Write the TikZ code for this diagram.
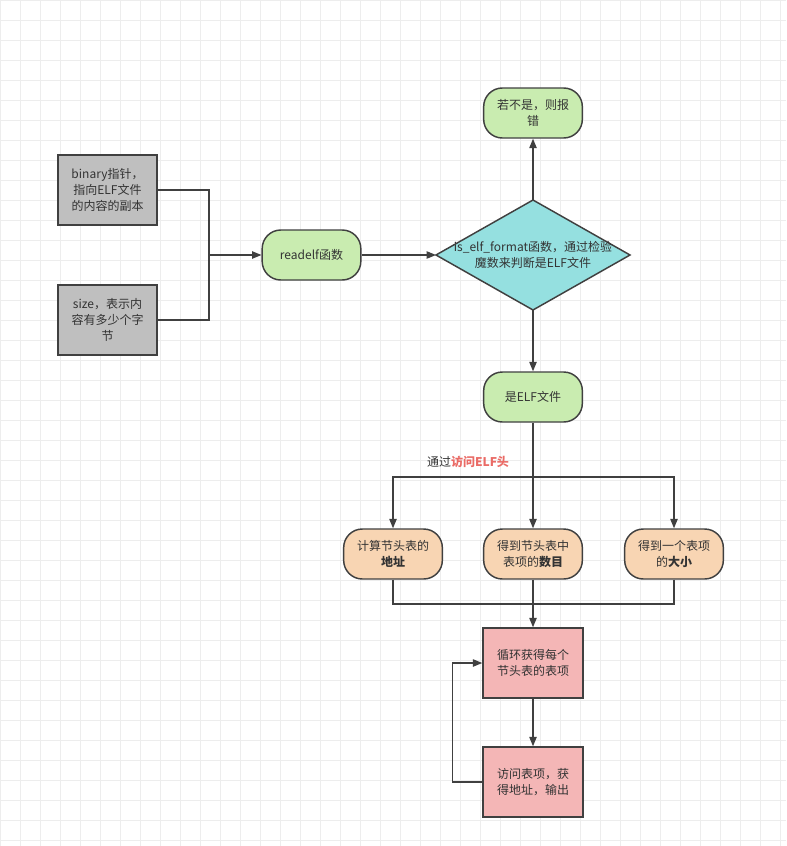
\documentclass[tikz,border=0pt]{standalone}
\usepackage{fontspec}
\setmainfont{Noto Sans CJK SC}
\usetikzlibrary{arrows.meta}
\definecolor{gr}{HTML}{C9ECB0}
\definecolor{cy}{HTML}{95E0E0}
\definecolor{og}{HTML}{F8D5B3}
\definecolor{pk}{HTML}{F4B6B6}
\definecolor{gy}{HTML}{BFBFBF}
\definecolor{ln}{HTML}{404040}
\definecolor{tx}{HTML}{333333}
\definecolor{rd}{HTML}{EA6B66}
\tikzset{
 base/.style={draw=ln,line width=1.1pt,text=tx,font=\fontsize{9}{12}\selectfont,align=center,inner sep=2pt},
 gbox/.style={base,fill=gy,minimum width=74pt,minimum height=52.5pt},
 rnd/.style={base,rounded corners=14pt,minimum width=74pt,minimum height=37.5pt},
 pbox/.style={base,fill=pk,minimum width=75pt,minimum height=52.5pt},
 ar/.style={draw=ln,line width=0.9pt,-{Triangle[length=7pt,width=5.5pt]}},
 ln/.style={draw=ln,line width=0.9pt},
}
\begin{document}
\begin{tikzpicture}[x=0.75pt,y=-0.75pt]
\useasboundingbox (0,0) rectangle (786,846);
\fill[white] (0,0) rectangle (786,846);
\foreach \i in {0,20,...,840}{\draw[black!7,line width=0.5pt] (\i,0) -- (\i,846);}
\foreach \j in {0,20,...,840}{\draw[black!7,line width=0.5pt] (0,\j) -- (786,\j);}
\node[gbox] (bin) at (107.5,190) {binary指针，\\指向ELF文件\\的内容的副本};
\node[gbox] (size) at (107.5,320) {size，表示内\\容有多少个字\\节};
\node[rnd,fill=gr] (rd) at (311.5,255) {readelf函数};
\draw[ln,fill=cy,line width=1.1pt] (436,255) -- (533,200) -- (630,255) -- (533,310) -- cycle;
\node[text=tx,font=\fontsize{9}{12}\selectfont,align=center] (dia) at (533,255) {is\_elf\_format函数，通过检验\\魔数来判断是ELF文件};
\coordinate (dl) at (436,255); \coordinate (dt) at (533,200); \coordinate (db) at (533,310);
\node[rnd,fill=gr] (err) at (533,113) {若不是，则报\\错};
\node[rnd,fill=gr] (elf) at (533,397) {是ELF文件};
\node[rnd,fill=og] (c1) at (393,554) {计算节头表的\\\textbf{地址}};
\node[rnd,fill=og] (c2) at (533,554) {得到节头表中\\表项的\textbf{数目}};
\node[rnd,fill=og] (c3) at (674,554) {得到一个表项\\的\textbf{大小}};
\node[pbox] (l1) at (533,663) {循环获得每个\\节头表的表项};
\node[pbox] (l2) at (533,782) {访问表项，获\\得地址，输出};
\node[text=tx,font=\fontsize{9}{12}\selectfont] (lab) at (468,462) {通过\textcolor{rd}{\textbf{访问ELF头}}};
\coordinate (j) at (209,255);
\coordinate (br) at (533,477);
\coordinate (mg) at (533,604);
\draw[ln] (bin.east) -| (j); \draw[ln] (size.east) -| (j);
\draw[ar] (j) -- (rd.west);
\draw[ar] (rd.east) -- (dl);
\draw[ar] (dt) -- (err.south);
\draw[ar] (db) -- (elf.north);
\draw[ln] (elf.south) -- (br);
\draw[ar] (br) -| (c1.north);
\draw[ar] (br) -- (c2.north);
\draw[ar] (br) -| (c3.north);
\draw[ln] (c1.south) |- (mg);
\draw[ln] (c3.south) |- (mg);
\draw[ar] (c2.south) -- (l1.north);
\draw[ar] (l1.south) -- (l2.north);
\draw[ar] (l2.west) -- ++(-30,0) |- (l1.west);
\end{tikzpicture}
\end{document}
